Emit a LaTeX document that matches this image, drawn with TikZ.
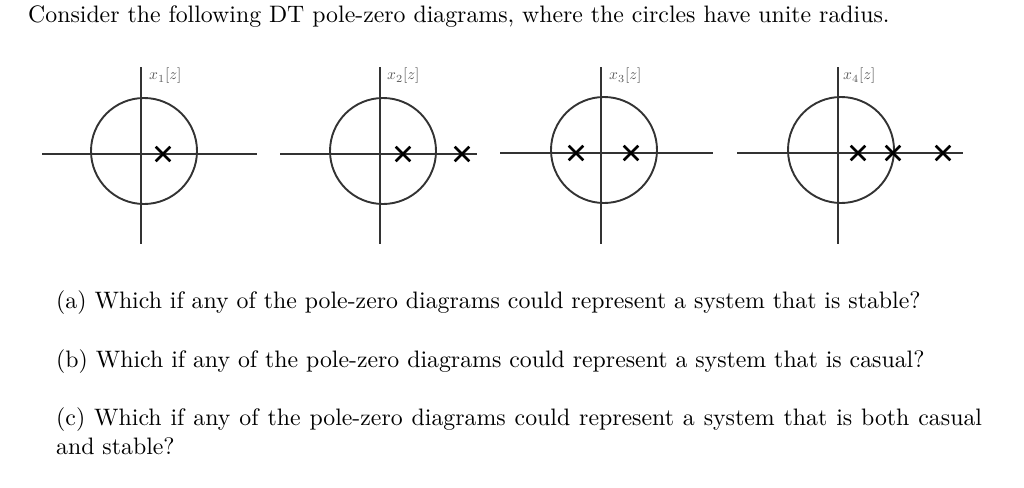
\documentclass[tikz,border=0pt]{standalone}
\usepackage{amsmath}
\usepackage{amssymb}
\usepackage{graphicx}
\usetikzlibrary{positioning, shapes.misc}

\newcommand{\qtext}[1]{\scalebox{2.38}{#1}}
\newcommand{\sysfont}[1]{\scalebox{1.55}{#1}}

\tikzset{
  axis/.style={line width=1.9pt, black!80},
  unitcircle/.style={line width=1.9pt, black!80},
  pole/.style={cross out, draw=black, line width=2.6pt, minimum size=12pt, inner sep=0pt},
  sysname/.style={anchor=north west, inner sep=0pt, text=black!65},
  question/.style={anchor=base west, inner sep=0pt, font=\fontsize{10}{12.6}\selectfont}
}

\begin{document}
\begin{tikzpicture}[x=1pt, y=-1pt]

  \useasboundingbox[fill=white] (0,0) rectangle (1024,487);

  \node[question] (title) at (28,23) {\qtext{Consider the following DT pole-zero diagrams, where the circles have unite radius.}};

  % diagram 1
  \draw[axis] (42,154) -- (257,154);
  \draw[axis] (141,67) -- (141,244);
  \draw[unitcircle] (144,151) circle (53);
  \node[sysname] (sysA) at (149,68) {\sysfont{$x_{1}[z]$}};
  \node[pole] (pA1) at (163,154) {};

  % diagram 2
  \draw[axis] (280,154) -- (477,154);
  \draw[axis] (380,67) -- (380,244);
  \draw[unitcircle] (383,151) circle (53);
  \node[sysname] (sysB) at (387,68) {\sysfont{$x_{2}[z]$}};
  \node[pole] (pB1) at (403,154) {};
  \node[pole] (pB2) at (462,154) {};

  % diagram 3
  \draw[axis] (500,153) -- (713,153);
  \draw[axis] (601,67) -- (601,244);
  \draw[unitcircle] (604,150) circle (53);
  \node[sysname] (sysC) at (609,68) {\sysfont{$x_{3}[z]$}};
  \node[pole] (pC1) at (576,153) {};
  \node[pole] (pC2) at (631,153) {};

  % diagram 4
  \draw[axis] (737,153) -- (963,153);
  \draw[axis] (838,67) -- (838,244);
  \draw[unitcircle] (841,150) circle (53);
  \node[sysname] (sysD) at (843,68) {\sysfont{$x_{4}[z]$}};
  \node[pole] (pD1) at (858,153) {};
  \node[pole] (pD2) at (893,153) {};
  \node[pole] (pD3) at (943,153) {};

  \node[question] (qa) at (56,308) {\qtext{(a) Which if any of the pole-zero diagrams could represent a system that is stable?}};
  \node[question] (qb) at (56,367) {\qtext{(b) Which if any of the pole-zero diagrams could represent a system that is casual?}};
  \node[question] (qc) at (56,425) {\qtext{\parbox[t]{389pt}{\baselineskip=12.6pt (c) Which if any of the pole-zero diagrams could represent a system that is both casual\linebreak and stable?}}};

\end{tikzpicture}
\end{document}
